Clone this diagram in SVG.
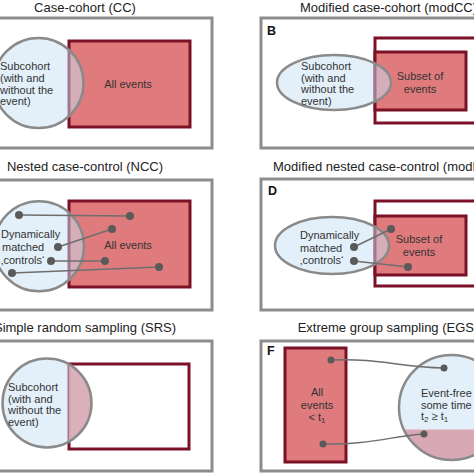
<svg xmlns="http://www.w3.org/2000/svg" width="474" height="474" viewBox="0 0 474 474">
<defs>
<style>
.frame{fill:#ffffff;stroke:#8c8c8c;stroke-width:3}
.ev{fill:#e07b7d;stroke:#7b1126;stroke-width:3}
.evo{fill:none;stroke:#7b1126;stroke-width:3}
.evw{fill:#ffffff;stroke:#7b1126;stroke-width:3}
.sub{fill:#c7e1f5;fill-opacity:0.5;stroke:#8a8a8a;stroke-width:2.5}
.pink{fill:#d8a8b4;fill-opacity:0.9}
.t{font-family:"Liberation Sans",Arial,sans-serif;font-size:13px;fill:#222222}
.l{font-family:"Liberation Sans",Arial,sans-serif;font-size:11px;fill:#333333}
.lab{font-family:"Liberation Sans",Arial,sans-serif;font-size:12.5px;font-weight:bold;fill:#111111}
.dot{fill:#5a5a5a}
.con{fill:none;stroke:#6e6e6e;stroke-width:1.5}
</style>
<clipPath id="clipE"><rect x="69" y="364" width="120" height="85"/></clipPath>
<clipPath id="clipF"><rect x="390" y="429.5" width="120" height="40"/></clipPath>
</defs>
<rect x="0" y="0" width="474" height="474" fill="#ffffff"/>

<!-- Panel A -->
<g id="panelA">
<text class="t" x="85" y="12" text-anchor="middle">Case-cohort (CC)</text>
<rect class="frame" x="-20" y="18" width="232" height="130"/>
<g id="A_events"><rect class="ev" x="69" y="41" width="121" height="86"/>
<text class="l" x="128" y="88" text-anchor="middle">All events</text></g>
<g id="A_subcohort"><circle class="sub" cx="38.5" cy="83" r="45"/>
<text class="l" x="0" y="69.5">Subcohort</text>
<text class="l" x="0" y="81.5">(with and</text>
<text class="l" x="0" y="93.5">without the</text>
<text class="l" x="0" y="105">event)</text></g>
</g>

<!-- Panel B -->
<g id="panelB">
<text class="t" x="388.5" y="12" text-anchor="middle">Modified case-cohort (modCC)</text>
<rect class="frame" x="261" y="18" width="240" height="130"/>
<text class="lab" x="267" y="35">B</text>
<g id="B_events"><rect class="evo" x="375" y="38" width="130" height="85"/>
<rect class="ev" x="375" y="52" width="91" height="58"/>
<text class="l" x="420" y="80" text-anchor="middle">Subset  of</text>
<text class="l" x="420" y="93" text-anchor="middle">events</text></g>
<g id="B_subcohort"><ellipse class="sub" cx="334" cy="82.5" rx="57" ry="27.5"/>
<text class="l" x="301" y="70">Subcohort</text>
<text class="l" x="301" y="81.5">(with and</text>
<text class="l" x="301" y="93">without the</text>
<text class="l" x="301" y="104.5">event)</text></g>
</g>

<!-- Panel C -->
<g id="panelC">
<text class="t" x="85" y="171" text-anchor="middle">Nested case-control (NCC)</text>
<rect class="frame" x="-20" y="180" width="232" height="130"/>
<g id="C_events"><rect class="ev" x="69" y="201" width="121" height="86"/>
<text class="l" x="128" y="249" text-anchor="middle">All events</text></g>
<g id="C_controls"><circle class="sub" cx="39" cy="246.3" r="45"/>
<text class="l" x="1" y="238">Dynamically</text>
<text class="l" x="2" y="251">matched</text>
<text class="l" x="1" y="264">‚controls‘</text></g>
</g>

<!-- Panel D -->
<g id="panelD">
<text class="t" x="389" y="171" text-anchor="middle">Modified nested case-control (modNCC)</text>
<rect class="frame" x="261" y="179" width="240" height="131"/>
<text class="lab" x="268" y="195">D</text>
<g id="D_events"><rect class="evo" x="375" y="201" width="130" height="85"/>
<rect class="ev" x="375" y="216" width="91" height="59"/>
<text class="l" x="419" y="243" text-anchor="middle">Subset  of</text>
<text class="l" x="419" y="256" text-anchor="middle">events</text></g>
<g id="D_controls"><ellipse class="sub" cx="332" cy="245.5" rx="57" ry="28.5"/>
<text class="l" x="300" y="239">Dynamically</text>
<text class="l" x="300" y="252">matched</text>
<text class="l" x="300" y="264">‚controls‘</text></g>
</g>

<!-- Panel E -->
<g id="panelE">
<text class="t" x="85" y="332" text-anchor="middle">Simple random sampling (SRS)</text>
<rect class="frame" x="-20" y="341" width="232" height="130"/>
<g id="E_events"><rect class="evw" x="69" y="364" width="120" height="85"/></g>
<g id="E_subcohort"><circle cx="47" cy="403" r="44.5" fill="#c7e1f5" fill-opacity="0.5"/>
<circle class="pink" cx="47" cy="403" r="44.5" clip-path="url(#clipE)"/>
<circle cx="47" cy="403" r="44.5" fill="none" stroke="#8a8a8a" stroke-width="2.5"/>
<text class="l" x="8" y="391">Subcohort</text>
<text class="l" x="8" y="402.5">(with and</text>
<text class="l" x="8" y="414">without the</text>
<text class="l" x="8" y="425.5">event)</text></g>
</g>

<!-- Panel F -->
<g id="panelF">
<text class="t" x="388" y="332" text-anchor="middle">Extreme group sampling (EGS)</text>
<rect class="frame" x="261" y="341" width="240" height="130"/>
<text class="lab" x="267" y="355">F</text>
<g id="F_events"><rect class="ev" x="285" y="348" width="61" height="114"/>
<text class="l" x="317" y="396" text-anchor="middle">All</text>
<text class="l" x="317" y="409" text-anchor="middle">events</text>
<text class="l" x="317" y="421" text-anchor="middle">&lt; t<tspan font-size="8" dy="2">1</tspan></text></g>
<g id="F_eventfree"><circle cx="451.5" cy="407.5" r="52.5" fill="#c7e1f5" fill-opacity="0.5"/>
<circle cx="451.5" cy="407.5" r="52.5" fill="#d8a8b4" clip-path="url(#clipF)"/>
<circle cx="451.5" cy="407.5" r="52.5" fill="none" stroke="#8a8a8a" stroke-width="2.5"/>
<text class="l" x="421" y="397">Event-free at</text>
<text class="l" x="421" y="408.5">some time</text>
<text class="l" x="421" y="420">t<tspan font-size="8" dy="2">2</tspan><tspan dy="-2"> ≥ t</tspan><tspan font-size="8" dy="2">1</tspan></text></g>
</g>

<!-- Connectors -->
<g id="connectors">
<line class="con" x1="19" y1="215" x2="130" y2="216"/>
<line class="con" x1="112" y1="229" x2="58" y2="247"/>
<line class="con" x1="51" y1="261" x2="105" y2="261"/>
<line class="con" x1="12" y1="273" x2="159" y2="267"/>
<line class="con" x1="391" y1="229" x2="354" y2="247"/>
<line class="con" x1="354" y1="261" x2="408" y2="267"/>
<path class="con" d="M331,360 C380,358 398,367 444,368"/>
<path class="con" d="M323,444 C370,445 392,436 424,434"/>
<circle class="dot" cx="19" cy="215" r="4"/><circle class="dot" cx="130" cy="216" r="4"/>
<circle class="dot" cx="112" cy="229" r="4"/><circle class="dot" cx="58" cy="247" r="4"/>
<circle class="dot" cx="51" cy="261" r="4"/><circle class="dot" cx="105" cy="261" r="4"/>
<circle class="dot" cx="12" cy="273" r="4"/><circle class="dot" cx="159" cy="267" r="4"/>
<circle class="dot" cx="391" cy="229" r="4"/><circle class="dot" cx="354" cy="247" r="4"/>
<circle class="dot" cx="354" cy="261" r="4"/><circle class="dot" cx="408" cy="267" r="4"/>
<circle class="dot" cx="331" cy="360" r="3.5"/><circle class="dot" cx="444" cy="368" r="3.5"/>
<circle class="dot" cx="323" cy="444" r="3.5"/><circle class="dot" cx="424" cy="434" r="3.5"/>
</g>
</svg>
